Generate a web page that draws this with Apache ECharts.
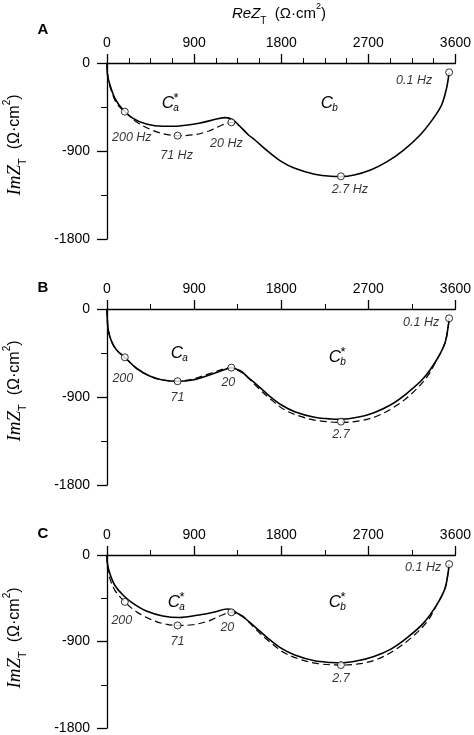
<!DOCTYPE html>
<html><head><meta charset="utf-8">
<script src="https://cdn.jsdelivr.net/npm/echarts@6/dist/echarts.min.js"></script>
<style>html,body{margin:0;padding:0;background:#fff}#c{width:474px;height:735px}</style>
</head><body><div id="c"></div>
<script>
// ---------- data ----------
const panelNames = ['A', 'B', 'C'];
const xTickLabels = [0, 900, 1800, 2700, 3600];
const yTickLabels = [0, -900, -1800];

const solidA = [[0,0],[3,-105],[31,-225],[82,-361],[167,-481],[269,-566],[406,-624],[576,-647],[747,-644],[951,-617],[1122,-576],[1224,-559],[1292,-576],[1360,-634],[1462,-736],[1531,-790],[1667,-907],[1803,-1009],[1940,-1077],[2145,-1138],[2314,-1159],[2417,-1161],[2554,-1145],[2723,-1094],[2894,-1009],[3065,-890],[3235,-736],[3372,-566],[3457,-430],[3508,-259],[3535,-95]];
const dashedA = [[0,0],[14,-174],[48,-293],[99,-412],[184,-498],[303,-600],[440,-675],[576,-723],[729,-743],[883,-736],[1053,-695],[1190,-634],[1285,-607],[1360,-638]];
const markersA = [[184,-498],[729,-743],[1285,-607],[2417,-1159],[3535,-95]];

const solidB = [[0,0],[2,-79],[13,-215],[48,-334],[99,-419],[184,-494],[304,-606],[440,-685],[576,-726],[729,-739],[883,-726],[1087,-665],[1224,-617],[1285,-600],[1360,-624],[1394,-641],[1462,-705],[1531,-760],[1667,-880],[1803,-982],[1940,-1050],[2145,-1108],[2314,-1125],[2417,-1127],[2588,-1108],[2758,-1060],[2928,-982],[3099,-862],[3270,-709],[3405,-522],[3491,-351],[3525,-181],[3535,-95]];
const dashedB = [[0,0],[2,-79],[13,-215],[48,-334],[99,-419],[184,-494],[304,-606],[440,-685],[576,-726],[729,-739],[883,-716],[1087,-652],[1224,-607],[1285,-600],[1360,-632],[1429,-675],[1565,-811],[1701,-931],[1838,-1033],[2008,-1101],[2178,-1142],[2417,-1159],[2622,-1142],[2792,-1094],[2963,-1005],[3133,-880],[3303,-700],[3405,-525],[3491,-351],[3525,-181],[3535,-95]];
const markersB = [[184,-494],[729,-739],[1285,-600],[2417,-1152],[3535,-95]];

const solidC = [[0,0],[3,-79],[31,-197],[82,-317],[167,-419],[269,-504],[406,-583],[576,-634],[747,-651],[951,-624],[1122,-590],[1241,-562],[1292,-573],[1360,-614],[1394,-632],[1462,-690],[1531,-750],[1667,-869],[1803,-972],[1940,-1040],[2145,-1101],[2314,-1118],[2417,-1122],[2588,-1101],[2758,-1056],[2928,-982],[3099,-862],[3270,-709],[3405,-522],[3491,-351],[3525,-181],[3535,-95]];
const dashedC = [[0,0],[3,-112],[31,-249],[82,-368],[184,-488],[304,-590],[440,-665],[576,-713],[729,-733],[883,-726],[1053,-685],[1190,-624],[1285,-596],[1360,-622],[1429,-662],[1565,-800],[1701,-920],[1838,-1020],[2008,-1090],[2178,-1130],[2417,-1145],[2622,-1130],[2792,-1085],[2963,-995],[3133,-870],[3303,-700],[3405,-522],[3491,-351],[3525,-181],[3535,-95]];
const markersC = [[184,-488],[729,-733],[1285,-596],[2417,-1145],[3535,-95]];

const freqLabelsA = ['200 Hz', '71 Hz', '20 Hz', '2.7 Hz', '0.1 Hz'];
const freqLabelsBC = ['200', '71', '20', '2.7', '0.1 Hz'];
const regionSubs = [['a', 'b'], ['a', 'b'], ['a', 'b']];
const regionStars = [[true, false], [false, true], [true, true]];

// ---------- layout ----------
const gridTops = [63, 309, 555];
const gridH = 176;
const minorX = [4, 2, 2];
const labelOffsets = [
  [[7,26],[-1,20],[-5,21],[9,13],[-35,8]],
  [[-2,21],[0,16],[-3,15],[0,13],[-28,4]],
  [[-3,19],[0,16],[-4,15],[0,13],[-26,3]]
];
const regionPos = [[[168,103],[327,103]], [[177,353],[335,357]], [[174,602],[335,602]]];
const letterPos = [[43,30],[43,288],[43,534]];
const yTitleY = [145, 391, 638];

const SANS = 'Liberation Sans, Arial, sans-serif';
const SERIF = 'Liberation Serif, Times New Roman, serif';

const solids = [solidA, solidB, solidC];
const dasheds = [dashedA, dashedB, dashedC];
const markers = [markersA, markersB, markersC];
const freqs = [freqLabelsA, freqLabelsBC, freqLabelsBC];

const grid = [], xAxis = [], yAxis = [], series = [], graphic = [];
for (let i = 0; i < 3; i++) {
  grid.push({ left: 107, width: 352, top: gridTops[i], height: gridH });
  xAxis.push({
    gridIndex: i, type: 'value', position: 'top',
    min: xTickLabels[0], max: xTickLabels[xTickLabels.length - 1],
    interval: xTickLabels[1] - xTickLabels[0],
    axisLine: { show: true, onZero: false, lineStyle: { color: '#000', width: 1.3 } },
    axisTick: { show: true, inside: false, length: 9, lineStyle: { color: '#000', width: 1.3 } },
    minorTick: { show: true, splitNumber: minorX[i], length: 5, lineStyle: { color: '#000', width: 1 } },
    axisLabel: { color: '#000', fontSize: 14, margin: 13, fontFamily: SANS, formatter: (v) => String(v) },
    splitLine: { show: false }, minorSplitLine: { show: false }
  });
  yAxis.push({
    gridIndex: i, type: 'value',
    min: yTickLabels[yTickLabels.length - 1], max: yTickLabels[0],
    interval: yTickLabels[0] - yTickLabels[1],
    axisLine: { show: true, onZero: false, lineStyle: { color: '#000', width: 1.3 } },
    axisTick: { show: true, inside: false, length: 10, lineStyle: { color: '#000', width: 1.3 } },
    minorTick: { show: true, splitNumber: 2, length: 6, lineStyle: { color: '#000', width: 1 } },
    axisLabel: { color: '#000', fontSize: 14, margin: 17, fontFamily: SANS, formatter: (v) => String(v) },
    splitLine: { show: false }, minorSplitLine: { show: false }
  });
  series.push({
    type: 'line', xAxisIndex: i, yAxisIndex: i, data: solids[i], smooth: 0.35,
    showSymbol: false, lineStyle: { color: '#000', width: 1.6 }, z: 3, silent: true
  });
  series.push({
    type: 'line', xAxisIndex: i, yAxisIndex: i, data: dasheds[i], smooth: 0.35,
    showSymbol: false, lineStyle: { color: '#000', width: 1.2, type: [7, 4] }, z: 2, silent: true
  });
  series.push({
    type: 'scatter', xAxisIndex: i, yAxisIndex: i,
    data: markers[i].map((p, j) => ({ value: p, label: { offset: labelOffsets[i][j] } })),
    symbol: 'circle', symbolSize: 7,
    itemStyle: { color: '#fff', borderColor: '#000', borderWidth: 1 }, z: 5,
    label: {
      show: true, position: 'inside', color: '#000', fontSize: 12.5, fontStyle: 'italic', fontFamily: SANS,
      formatter: (p) => freqs[i][p.dataIndex]
    }
  });
  graphic.push({ type: 'text', x: letterPos[i][0], y: letterPos[i][1],
    style: { text: panelNames[i], font: 'bold 15px ' + SANS, fill: '#000', align: 'center', verticalAlign: 'middle' } });
  graphic.push({ type: 'text', x: 15, y: yTitleY[i], rotation: Math.PI / 2,
    style: {
      text: '{i|ImZ}{s|T}{n|  (Ω·cm}{p|2}{n|)}', align: 'center', verticalAlign: 'middle', fill: '#000',
      rich: {
        i: { fontFamily: SERIF, fontStyle: 'italic', fontSize: 19, lineHeight: 26, verticalAlign: 'middle' },
        s: { fontFamily: SANS, fontSize: 11, lineHeight: 26, verticalAlign: 'bottom' },
        n: { fontFamily: SANS, fontSize: 16, lineHeight: 26, verticalAlign: 'middle' },
        p: { fontFamily: SANS, fontSize: 10, lineHeight: 26, verticalAlign: 'top' }
      }
    } });
  for (let k = 0; k < 2; k++) {
    const [rx, ry] = regionPos[i][k];
    graphic.push({ type: 'text', x: rx, y: ry,
      style: { text: 'C', font: 'italic 17px ' + SANS, fill: '#000', align: 'center', verticalAlign: 'middle' } });
    graphic.push({ type: 'text', x: rx + 8, y: ry + 5,
      style: { text: regionSubs[i][k], font: 'italic 10px ' + SANS, fill: '#000', align: 'center', verticalAlign: 'middle' } });
    if (regionStars[i][k]) {
      graphic.push({ type: 'text', x: rx + 8, y: ry - 5,
        style: { text: '*', font: '13px ' + SANS, fill: '#000', align: 'center', verticalAlign: 'middle' } });
    }
  }
}
graphic.push({ type: 'text', x: 279, y: 14,
  style: {
    text: '{i|ReZ}{s|T}{n|  (Ω·cm}{p|2}{n|)}', align: 'center', verticalAlign: 'middle', fill: '#000',
    rich: {
      i: { fontFamily: SANS, fontStyle: 'italic', fontSize: 15, lineHeight: 24, verticalAlign: 'middle' },
      s: { fontFamily: SANS, fontSize: 10, lineHeight: 24, verticalAlign: 'bottom' },
      n: { fontFamily: SANS, fontSize: 15, lineHeight: 24, verticalAlign: 'middle' },
      p: { fontFamily: SANS, fontSize: 9, lineHeight: 24, verticalAlign: 'top' }
    }
  } });

const chart = echarts.init(document.getElementById('c'));
chart.setOption({ animation: false, backgroundColor: '#fff', grid, xAxis, yAxis, series, graphic });
</script></body></html>
